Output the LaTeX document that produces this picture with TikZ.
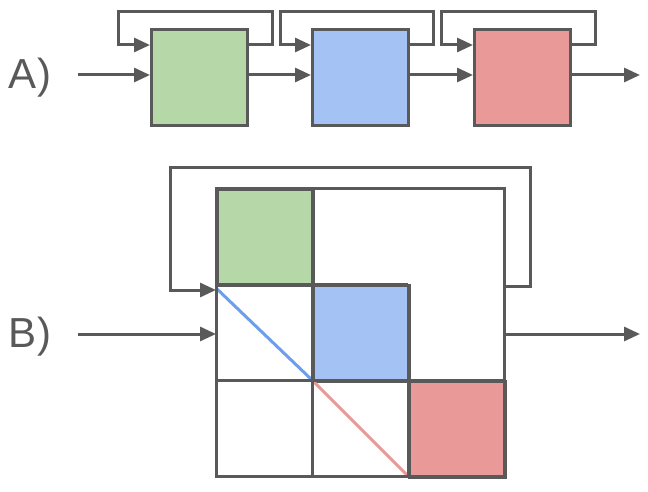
\documentclass[tikz,border=0pt]{standalone}
\usepackage{fontspec}
\setmainfont{Liberation Sans}
\usetikzlibrary{arrows.meta}
\definecolor{ln}{HTML}{595959}
\definecolor{gr}{HTML}{B6D7A8}
\definecolor{bl}{HTML}{A4C2F4}
\definecolor{rd}{HTML}{EA9999}
\definecolor{dbl}{HTML}{6D9EEB}
\tikzset{
 mywire/.style={draw=ln,line width=3pt},
 myarr/.style={draw=ln,line width=3pt,-{Triangle[length=16pt,width=14pt]}},
 blk/.style={draw=ln,line width=3pt,minimum size=96pt,inner sep=0pt,anchor=north west},
 lbl/.style={font=\fontsize{42}{42}\selectfont,text=ln}
}
\begin{document}
\begin{tikzpicture}[x=1pt,y=-1pt,line width=3pt,line join=miter]
\useasboundingbox (0,0) rectangle (648,492);
% A
\node[lbl] (la) at (30,78) {A)};
\node[blk,fill=gr] (g) at (150,28) {};
\node[blk,fill=bl] (b) at (311,28) {};
\node[blk,fill=rd] (r) at (473,28) {};
\coordinate (ina) at (78,75);
\coordinate (outa) at (640,75);
\draw[myarr] (ina) -- (ina -| g.west);
\draw[myarr] (g.east |- ina) -- (ina -| b.west);
\draw[myarr] (b.east |- ina) -- (ina -| r.west);
\draw[myarr] (r.east |- ina) -- (outa);
\draw[myarr] (246,45) -- (272,45) -- (272,12) -- (118,12) -- (118,45) -- (g.west |- 0,45);
\draw[myarr] (408,45) -- (433,45) -- (433,12) -- (280,12) -- (280,45) -- (b.west |- 0,45);
\draw[myarr] (570,45) -- (595,45) -- (595,12) -- (441,12) -- (441,45) -- (r.west |- 0,45);
% B
\node[lbl] (lb) at (30,337) {B)};
\node[blk,fill=gr] (c11) at (216,188) {};
\node[blk,fill=bl] (c22) at (312,284) {};
\node[blk,fill=rd] (c33) at (408,380) {};
\draw[line width=3pt,dbl] (216,288) -- (312,380);
\draw[line width=3pt,rd] (312,380) -- (408,476);
\draw[mywire] (216,188) rectangle (504,476);
\draw[mywire] (312,188) -- (312,476);
\draw[mywire] (216,284) -- (408,284);
\draw[mywire] (216,380) -- (504,380);
\draw[mywire] (408,284) -- (408,476);
\coordinate (inb) at (78,334);
\coordinate (outb) at (640,334);
\draw[myarr] (inb) -- (216,334);
\draw[myarr] (504,334) -- (outb);
\draw[myarr] (504,286) -- (530,286) -- (530,168) -- (170,168) -- (170,290) -- (216,290);
\end{tikzpicture}
\end{document}
